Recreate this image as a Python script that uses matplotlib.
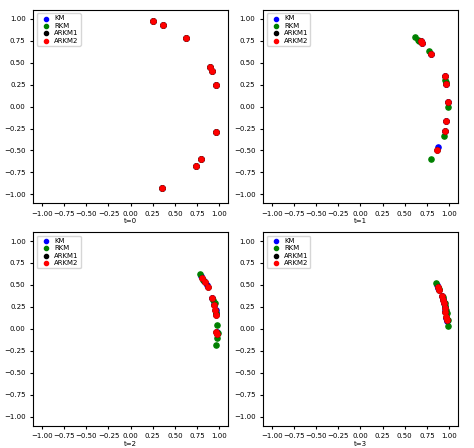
import numpy as np
import matplotlib
matplotlib.use('Agg')
import matplotlib.pyplot as plt

# t=0: all methods start from the same points
x0 = [0.25, 0.37, 0.63, 0.90, 0.92, 0.97, 0.96, 0.80, 0.74, 0.35]
y0 = [0.97, 0.93, 0.78, 0.45, 0.40, 0.25, -0.29, -0.60, -0.68, -0.93]

# t=1
km1_x = [0.68, 0.70, 0.80, 0.95, 0.97, 0.99, 0.97, 0.96, 0.88]
km1_y = [0.74, 0.72, 0.60, 0.35, 0.26, 0.05, -0.16, -0.28, -0.46]
rkm1_x = [0.62, 0.65, 0.77, 0.96, 0.99, 0.94, 0.80, 0.66, 0.97]
rkm1_y = [0.79, 0.76, 0.63, 0.30, 0.00, -0.33, -0.60, 0.75, 0.28]
ark1_x = [0.68, 0.70, 0.80, 0.95, 0.97, 0.99, 0.97, 0.96, 0.86]
ark1_y = [0.74, 0.72, 0.60, 0.35, 0.26, 0.05, -0.17, -0.28, -0.49]

# t=2
km2_x = [0.80, 0.83, 0.86, 0.92, 0.94, 0.96, 0.97, 0.98, 0.98]
km2_y = [0.60, 0.55, 0.50, 0.35, 0.28, 0.22, 0.18, -0.03, -0.05]
rkm2_x = [0.78, 0.82, 0.95, 0.98, 0.99, 0.98, 0.97, 0.96, 0.93]
rkm2_y = [0.62, 0.56, 0.30, 0.05, -0.05, -0.10, -0.18, 0.18, 0.33]
ark2_x = [0.81, 0.84, 0.87, 0.92, 0.94, 0.95, 0.96, 0.97, 0.98]
ark2_y = [0.58, 0.53, 0.48, 0.35, 0.27, 0.22, 0.16, -0.03, -0.06]

# t=3
km3_x = [0.86, 0.88, 0.92, 0.93, 0.94, 0.95, 0.96, 0.97, 0.98]
km3_y = [0.50, 0.46, 0.38, 0.34, 0.30, 0.25, 0.20, 0.12, 0.09]
rkm3_x = [0.85, 0.89, 0.93, 0.95, 0.96, 0.97, 0.98, 0.99, 0.99]
rkm3_y = [0.52, 0.45, 0.36, 0.30, 0.26, 0.22, 0.18, 0.10, 0.03]
ark3_x = [0.87, 0.89, 0.92, 0.93, 0.94, 0.95, 0.96, 0.97, 0.98]
ark3_y = [0.48, 0.44, 0.38, 0.33, 0.29, 0.24, 0.19, 0.13, 0.10]

frames = [
    (x0, y0, x0, y0, x0, y0, x0, y0),
    (km1_x, km1_y, rkm1_x, rkm1_y, ark1_x, ark1_y, ark1_x, ark1_y),
    (km2_x, km2_y, rkm2_x, rkm2_y, ark2_x, ark2_y, ark2_x, ark2_y),
    (km3_x, km3_y, rkm3_x, rkm3_y, ark3_x, ark3_y, ark3_x, ark3_y),
]

fig, axs = plt.subplots(2, 2, figsize=(4.74, 4.48), dpi=100)
ticks = np.arange(-1, 1.01, 0.25)
for i, ax in enumerate(axs.flat):
    kx, ky, rx, ry, a1x, a1y, a2x, a2y = frames[i]
    ax.scatter(kx, ky, s=14, c='blue', label='KM')
    ax.scatter(rx, ry, s=14, c='green', label='RKM')
    ax.scatter(a1x, a1y, s=14, c='black', label='ARKM1')
    ax.scatter(a2x, a2y, s=14, c='red', label='ARKM2')
    ax.set_xlim(-1.1, 1.1)
    ax.set_ylim(-1.1, 1.1)
    ax.set_xticks(ticks)
    ax.set_yticks(ticks)
    ax.tick_params(labelsize=5, length=2)
    ax.set_xlabel('t=%d' % i, fontsize=5, labelpad=1)
    ax.legend(loc='upper left', fontsize=5, markerscale=0.8, handletextpad=0.2,
              borderpad=0.3, labelspacing=0.2)

plt.subplots_adjust(left=0.07, right=0.966, top=0.978, bottom=0.05, wspace=0.18, hspace=0.15)
plt.savefig('out.png')
